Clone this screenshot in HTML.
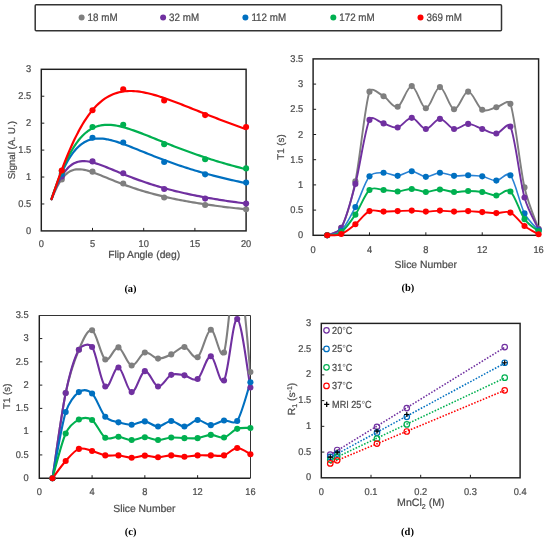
<!DOCTYPE html>
<html><head><meta charset="utf-8"><style>
html,body{margin:0;padding:0;background:#fff;width:550px;height:540px;overflow:hidden}
svg{display:block;will-change:transform}
</style></head><body>
<svg width="550" height="540" viewBox="0 0 550 540" text-rendering="geometricPrecision">
<rect width="550" height="540" fill="#fff"/>
<rect x="35.2" y="4.7" width="466.3" height="26.1" rx="1" fill="#fff" stroke="#333" stroke-width="1.5"/>
<circle cx="81.6" cy="17.6" r="3" fill="#7f7f7f"/>
<text transform="translate(87.6 20.6) scale(1 1.1)" font-family='"Liberation Sans", sans-serif' font-size="9.8" fill="#4d4d4d" text-anchor="start" font-weight="normal"  stroke="#4d4d4d" stroke-width="0.22">18 mM</text>
<circle cx="163.1" cy="17.6" r="3" fill="#7030a0"/>
<text transform="translate(169.1 20.6) scale(1 1.1)" font-family='"Liberation Sans", sans-serif' font-size="9.8" fill="#4d4d4d" text-anchor="start" font-weight="normal"  stroke="#4d4d4d" stroke-width="0.22">32 mM</text>
<circle cx="245.4" cy="17.6" r="3" fill="#0070c0"/>
<text transform="translate(251.4 20.6) scale(1 1.1)" font-family='"Liberation Sans", sans-serif' font-size="9.8" fill="#4d4d4d" text-anchor="start" font-weight="normal"  stroke="#4d4d4d" stroke-width="0.22">112 mM</text>
<circle cx="333.3" cy="17.6" r="3" fill="#00b050"/>
<text transform="translate(339.3 20.6) scale(1 1.1)" font-family='"Liberation Sans", sans-serif' font-size="9.8" fill="#4d4d4d" text-anchor="start" font-weight="normal"  stroke="#4d4d4d" stroke-width="0.22">172 mM</text>
<circle cx="420.5" cy="17.6" r="3" fill="#ff0000"/>
<text transform="translate(426.5 20.6) scale(1 1.1)" font-family='"Liberation Sans", sans-serif' font-size="9.8" fill="#4d4d4d" text-anchor="start" font-weight="normal"  stroke="#4d4d4d" stroke-width="0.22">369 mM</text>
<rect x="41.3" y="69.3" width="204.8" height="161.6" fill="none" stroke="#1f1f1f" stroke-width="1.45"/>
<line x1="41.3" y1="203.97" x2="44.3" y2="203.97" stroke="#1f1f1f" stroke-width="1"/>
<line x1="41.3" y1="177.03" x2="44.3" y2="177.03" stroke="#1f1f1f" stroke-width="1"/>
<line x1="41.3" y1="150.1" x2="44.3" y2="150.1" stroke="#1f1f1f" stroke-width="1"/>
<line x1="41.3" y1="123.17" x2="44.3" y2="123.17" stroke="#1f1f1f" stroke-width="1"/>
<line x1="41.3" y1="96.23" x2="44.3" y2="96.23" stroke="#1f1f1f" stroke-width="1"/>
<line x1="92.5" y1="230.9" x2="92.5" y2="227.9" stroke="#1f1f1f" stroke-width="1"/>
<line x1="143.7" y1="230.9" x2="143.7" y2="227.9" stroke="#1f1f1f" stroke-width="1"/>
<line x1="194.9" y1="230.9" x2="194.9" y2="227.9" stroke="#1f1f1f" stroke-width="1"/>
<text transform="translate(31.2 233.65) scale(1 1.06)" font-family='"Liberation Sans", sans-serif' font-size="9.3" fill="#4d4d4d" text-anchor="end" font-weight="normal"  stroke="#4d4d4d" stroke-width="0.22">0</text>
<text transform="translate(31.2 206.72) scale(1 1.06)" font-family='"Liberation Sans", sans-serif' font-size="9.3" fill="#4d4d4d" text-anchor="end" font-weight="normal"  stroke="#4d4d4d" stroke-width="0.22">0.5</text>
<text transform="translate(31.2 179.78) scale(1 1.06)" font-family='"Liberation Sans", sans-serif' font-size="9.3" fill="#4d4d4d" text-anchor="end" font-weight="normal"  stroke="#4d4d4d" stroke-width="0.22">1</text>
<text transform="translate(31.2 152.85) scale(1 1.06)" font-family='"Liberation Sans", sans-serif' font-size="9.3" fill="#4d4d4d" text-anchor="end" font-weight="normal"  stroke="#4d4d4d" stroke-width="0.22">1.5</text>
<text transform="translate(31.2 125.92) scale(1 1.06)" font-family='"Liberation Sans", sans-serif' font-size="9.3" fill="#4d4d4d" text-anchor="end" font-weight="normal"  stroke="#4d4d4d" stroke-width="0.22">2</text>
<text transform="translate(31.2 98.98) scale(1 1.06)" font-family='"Liberation Sans", sans-serif' font-size="9.3" fill="#4d4d4d" text-anchor="end" font-weight="normal"  stroke="#4d4d4d" stroke-width="0.22">2.5</text>
<text transform="translate(31.2 72.05) scale(1 1.06)" font-family='"Liberation Sans", sans-serif' font-size="9.3" fill="#4d4d4d" text-anchor="end" font-weight="normal"  stroke="#4d4d4d" stroke-width="0.22">3</text>
<text transform="translate(41.3 247.45) scale(1 1.06)" font-family='"Liberation Sans", sans-serif' font-size="9.3" fill="#4d4d4d" text-anchor="middle" font-weight="normal"  stroke="#4d4d4d" stroke-width="0.22">0</text>
<text transform="translate(92.5 247.45) scale(1 1.06)" font-family='"Liberation Sans", sans-serif' font-size="9.3" fill="#4d4d4d" text-anchor="middle" font-weight="normal"  stroke="#4d4d4d" stroke-width="0.22">5</text>
<text transform="translate(143.7 247.45) scale(1 1.06)" font-family='"Liberation Sans", sans-serif' font-size="9.3" fill="#4d4d4d" text-anchor="middle" font-weight="normal"  stroke="#4d4d4d" stroke-width="0.22">10</text>
<text transform="translate(194.9 247.45) scale(1 1.06)" font-family='"Liberation Sans", sans-serif' font-size="9.3" fill="#4d4d4d" text-anchor="middle" font-weight="normal"  stroke="#4d4d4d" stroke-width="0.22">15</text>
<text transform="translate(246.1 247.45) scale(1 1.06)" font-family='"Liberation Sans", sans-serif' font-size="9.3" fill="#4d4d4d" text-anchor="middle" font-weight="normal"  stroke="#4d4d4d" stroke-width="0.22">20</text>
<text x="144.2" y="257.8" font-family='"Liberation Sans", sans-serif' font-size="10.3" fill="#4d4d4d" text-anchor="middle" font-weight="normal"  stroke="#4d4d4d" stroke-width="0.22">Flip Angle (deg)</text>
<text x="15.6" y="150.2" font-family='"Liberation Sans", sans-serif' font-size="9.8" fill="#4d4d4d" text-anchor="middle" font-weight="normal" transform="rotate(-90 15.5 150.3)" stroke="#4d4d4d" stroke-width="0.22">Signal (A. U.)</text>
<polyline points="51.54,199.51 53.59,194.35 55.64,189.71 57.68,185.6 59.73,182.02 61.78,178.97 63.83,176.42 65.88,174.32 67.92,172.66 69.97,171.37 72.02,170.43 74.07,169.79 76.12,169.41 78.16,169.26 80.21,169.3 82.26,169.5 84.31,169.85 86.36,170.3 88.4,170.86 90.45,171.48 92.5,172.17 94.55,172.91 96.6,173.69 98.64,174.49 100.69,175.31 102.74,176.15 104.79,176.99 106.84,177.84 108.88,178.68 110.93,179.52 112.98,180.35 115.03,181.18 117.08,181.99 119.12,182.79 121.17,183.58 123.22,184.35 125.27,185.11 127.32,185.85 129.36,186.58 131.41,187.29 133.46,187.98 135.51,188.66 137.56,189.33 139.6,189.98 141.65,190.61 143.7,191.23 145.75,191.83 147.8,192.42 149.84,192.99 151.89,193.55 153.94,194.1 155.99,194.63 158.04,195.15 160.08,195.66 162.13,196.16 164.18,196.64 166.23,197.12 168.28,197.58 170.32,198.03 172.37,198.47 174.42,198.9 176.47,199.32 178.52,199.73 180.56,200.13 182.61,200.52 184.66,200.9 186.71,201.27 188.76,201.64 190.8,202 192.85,202.35 194.9,202.69 196.95,203.02 199,203.35 201.04,203.67 203.09,203.98 205.14,204.29 207.19,204.59 209.24,204.89 211.28,205.18 213.33,205.46 215.38,205.74 217.43,206.01 219.48,206.27 221.52,206.53 223.57,206.79 225.62,207.04 227.67,207.29 229.72,207.53 231.76,207.77 233.81,208 235.86,208.23 237.91,208.45 239.96,208.67 242,208.89 244.05,209.1 246.1,209.31" fill="none" stroke="#7f7f7f" stroke-width="2.2" stroke-linejoin="round" stroke-linecap="round"/>
<circle cx="61.78" cy="179.4" r="3.05" fill="#7f7f7f"/>
<circle cx="92.5" cy="171.65" r="3.05" fill="#7f7f7f"/>
<circle cx="123.22" cy="183.5" r="3.05" fill="#7f7f7f"/>
<circle cx="164.18" cy="197.5" r="3.05" fill="#7f7f7f"/>
<circle cx="205.14" cy="205.04" r="3.05" fill="#7f7f7f"/>
<circle cx="246.1" cy="209.35" r="3.05" fill="#7f7f7f"/>
<polyline points="51.54,198.94 53.59,193.46 55.64,188.42 57.68,183.84 59.73,179.73 61.78,176.1 63.83,172.94 65.88,170.23 67.92,167.93 69.97,166.04 72.02,164.5 74.07,163.3 76.12,162.39 78.16,161.75 80.21,161.35 82.26,161.15 84.31,161.13 86.36,161.26 88.4,161.53 90.45,161.92 92.5,162.4 94.55,162.96 96.6,163.59 98.64,164.27 100.69,165 102.74,165.77 104.79,166.56 106.84,167.37 108.88,168.2 110.93,169.04 112.98,169.89 115.03,170.74 117.08,171.59 119.12,172.43 121.17,173.27 123.22,174.1 125.27,174.93 127.32,175.74 129.36,176.54 131.41,177.33 133.46,178.11 135.51,178.87 137.56,179.62 139.6,180.36 141.65,181.08 143.7,181.79 145.75,182.48 147.8,183.16 149.84,183.83 151.89,184.48 153.94,185.12 155.99,185.75 158.04,186.36 160.08,186.96 162.13,187.54 164.18,188.12 166.23,188.68 168.28,189.23 170.32,189.77 172.37,190.29 174.42,190.81 176.47,191.31 178.52,191.8 180.56,192.29 182.61,192.76 184.66,193.22 186.71,193.67 188.76,194.12 190.8,194.55 192.85,194.98 194.9,195.39 196.95,195.8 199,196.2 201.04,196.59 203.09,196.98 205.14,197.35 207.19,197.72 209.24,198.08 211.28,198.44 213.33,198.79 215.38,199.13 217.43,199.46 219.48,199.79 221.52,200.11 223.57,200.43 225.62,200.74 227.67,201.04 229.72,201.34 231.76,201.63 233.81,201.92 235.86,202.21 237.91,202.48 239.96,202.76 242,203.03 244.05,203.29 246.1,203.55" fill="none" stroke="#7030a0" stroke-width="2.2" stroke-linejoin="round" stroke-linecap="round"/>
<circle cx="61.78" cy="176.49" r="3.05" fill="#7030a0"/>
<circle cx="92.5" cy="161.41" r="3.05" fill="#7030a0"/>
<circle cx="123.22" cy="173.26" r="3.05" fill="#7030a0"/>
<circle cx="164.18" cy="188.99" r="3.05" fill="#7030a0"/>
<circle cx="205.14" cy="198.58" r="3.05" fill="#7030a0"/>
<circle cx="246.1" cy="203.59" r="3.05" fill="#7030a0"/>
<polyline points="51.54,199.04 53.59,193.18 55.64,187.58 57.68,182.26 59.73,177.24 61.78,172.55 63.83,168.19 65.88,164.18 67.92,160.5 69.97,157.16 72.02,154.15 74.07,151.45 76.12,149.07 78.16,146.98 80.21,145.16 82.26,143.61 84.31,142.29 86.36,141.21 88.4,140.33 90.45,139.64 92.5,139.13 94.55,138.78 96.6,138.58 98.64,138.51 100.69,138.55 102.74,138.71 104.79,138.96 106.84,139.29 108.88,139.7 110.93,140.17 112.98,140.7 115.03,141.29 117.08,141.92 119.12,142.59 121.17,143.29 123.22,144.02 125.27,144.77 127.32,145.54 129.36,146.33 131.41,147.13 133.46,147.94 135.51,148.76 137.56,149.58 139.6,150.41 141.65,151.23 143.7,152.06 145.75,152.89 147.8,153.71 149.84,154.53 151.89,155.34 153.94,156.15 155.99,156.95 158.04,157.74 160.08,158.52 162.13,159.3 164.18,160.07 166.23,160.83 168.28,161.58 170.32,162.32 172.37,163.05 174.42,163.77 176.47,164.48 178.52,165.18 180.56,165.87 182.61,166.55 184.66,167.22 186.71,167.88 188.76,168.53 190.8,169.18 192.85,169.81 194.9,170.43 196.95,171.04 199,171.64 201.04,172.23 203.09,172.82 205.14,173.39 207.19,173.96 209.24,174.52 211.28,175.06 213.33,175.6 215.38,176.13 217.43,176.66 219.48,177.17 221.52,177.68 223.57,178.17 225.62,178.67 227.67,179.15 229.72,179.62 231.76,180.09 233.81,180.55 235.86,181.01 237.91,181.45 239.96,181.89 242,182.33 244.05,182.75 246.1,183.17" fill="none" stroke="#0070c0" stroke-width="2.2" stroke-linejoin="round" stroke-linecap="round"/>
<circle cx="61.78" cy="174.02" r="3.05" fill="#0070c0"/>
<circle cx="92.5" cy="137.71" r="3.05" fill="#0070c0"/>
<circle cx="123.22" cy="142.56" r="3.05" fill="#0070c0"/>
<circle cx="164.18" cy="161.95" r="3.05" fill="#0070c0"/>
<circle cx="205.14" cy="174.34" r="3.05" fill="#0070c0"/>
<circle cx="246.1" cy="182.58" r="3.05" fill="#0070c0"/>
<polyline points="51.54,198.9 53.59,192.89 55.64,187.08 57.68,181.5 59.73,176.16 61.78,171.08 63.83,166.28 65.88,161.76 67.92,157.54 69.97,153.61 72.02,149.97 74.07,146.63 76.12,143.57 78.16,140.79 80.21,138.28 82.26,136.03 84.31,134.03 86.36,132.26 88.4,130.72 90.45,129.39 92.5,128.26 94.55,127.31 96.6,126.53 98.64,125.92 100.69,125.45 102.74,125.12 104.79,124.91 106.84,124.82 108.88,124.84 110.93,124.95 112.98,125.15 115.03,125.43 117.08,125.77 119.12,126.19 121.17,126.66 123.22,127.18 125.27,127.75 127.32,128.35 129.36,129 131.41,129.68 133.46,130.38 135.51,131.11 137.56,131.86 139.6,132.62 141.65,133.4 143.7,134.2 145.75,135 147.8,135.81 149.84,136.63 151.89,137.45 153.94,138.28 155.99,139.11 158.04,139.93 160.08,140.76 162.13,141.58 164.18,142.4 166.23,143.22 168.28,144.03 170.32,144.84 172.37,145.64 174.42,146.44 176.47,147.23 178.52,148.01 180.56,148.79 182.61,149.56 184.66,150.32 186.71,151.07 188.76,151.81 190.8,152.55 192.85,153.28 194.9,153.99 196.95,154.7 199,155.41 201.04,156.1 203.09,156.78 205.14,157.46 207.19,158.12 209.24,158.78 211.28,159.43 213.33,160.07 215.38,160.71 217.43,161.33 219.48,161.95 221.52,162.55 223.57,163.15 225.62,163.74 227.67,164.33 229.72,164.9 231.76,165.47 233.81,166.03 235.86,166.58 237.91,167.13 239.96,167.66 242,168.19 244.05,168.72 246.1,169.23" fill="none" stroke="#00b050" stroke-width="2.2" stroke-linejoin="round" stroke-linecap="round"/>
<circle cx="61.78" cy="171.11" r="3.05" fill="#00b050"/>
<circle cx="92.5" cy="126.94" r="3.05" fill="#00b050"/>
<circle cx="123.22" cy="124.78" r="3.05" fill="#00b050"/>
<circle cx="164.18" cy="144.17" r="3.05" fill="#00b050"/>
<circle cx="205.14" cy="159.26" r="3.05" fill="#00b050"/>
<circle cx="246.1" cy="168.41" r="3.05" fill="#00b050"/>
<polyline points="51.54,199.2 53.59,193.08 55.64,187.07 57.68,181.19 59.73,175.45 61.78,169.88 63.83,164.47 65.88,159.25 67.92,154.22 69.97,149.38 72.02,144.75 74.07,140.33 76.12,136.12 78.16,132.13 80.21,128.34 82.26,124.78 84.31,121.42 86.36,118.28 88.4,115.34 90.45,112.61 92.5,110.07 94.55,107.73 96.6,105.58 98.64,103.6 100.69,101.8 102.74,100.16 104.79,98.69 106.84,97.37 108.88,96.2 110.93,95.16 112.98,94.26 115.03,93.48 117.08,92.83 119.12,92.28 121.17,91.84 123.22,91.5 125.27,91.26 127.32,91.1 129.36,91.02 131.41,91.02 133.46,91.1 135.51,91.24 137.56,91.44 139.6,91.7 141.65,92.02 143.7,92.38 145.75,92.8 147.8,93.25 149.84,93.74 151.89,94.27 153.94,94.83 155.99,95.42 158.04,96.04 160.08,96.69 162.13,97.36 164.18,98.05 166.23,98.75 168.28,99.48 170.32,100.22 172.37,100.97 174.42,101.73 176.47,102.51 178.52,103.29 180.56,104.08 182.61,104.88 184.66,105.68 186.71,106.49 188.76,107.3 190.8,108.11 192.85,108.93 194.9,109.75 196.95,110.56 199,111.38 201.04,112.2 203.09,113.01 205.14,113.82 207.19,114.63 209.24,115.44 211.28,116.24 213.33,117.05 215.38,117.84 217.43,118.64 219.48,119.42 221.52,120.21 223.57,120.99 225.62,121.76 227.67,122.53 229.72,123.29 231.76,124.05 233.81,124.8 235.86,125.55 237.91,126.29 239.96,127.02 242,127.75 244.05,128.47 246.1,129.19" fill="none" stroke="#ff0000" stroke-width="2.2" stroke-linejoin="round" stroke-linecap="round"/>
<circle cx="61.78" cy="170.57" r="3.05" fill="#ff0000"/>
<circle cx="92.5" cy="110.24" r="3.05" fill="#ff0000"/>
<circle cx="123.22" cy="89.23" r="3.05" fill="#ff0000"/>
<circle cx="164.18" cy="100.54" r="3.05" fill="#ff0000"/>
<circle cx="205.14" cy="115.09" r="3.05" fill="#ff0000"/>
<circle cx="246.1" cy="126.94" r="3.05" fill="#ff0000"/>
<rect x="313.1" y="58.9" width="225.5" height="176.4" fill="none" stroke="#1f1f1f" stroke-width="1.45"/>
<line x1="313.1" y1="210.1" x2="316.1" y2="210.1" stroke="#1f1f1f" stroke-width="1"/>
<line x1="313.1" y1="184.9" x2="316.1" y2="184.9" stroke="#1f1f1f" stroke-width="1"/>
<line x1="313.1" y1="159.7" x2="316.1" y2="159.7" stroke="#1f1f1f" stroke-width="1"/>
<line x1="313.1" y1="134.5" x2="316.1" y2="134.5" stroke="#1f1f1f" stroke-width="1"/>
<line x1="313.1" y1="109.3" x2="316.1" y2="109.3" stroke="#1f1f1f" stroke-width="1"/>
<line x1="313.1" y1="84.1" x2="316.1" y2="84.1" stroke="#1f1f1f" stroke-width="1"/>
<line x1="369.48" y1="235.3" x2="369.48" y2="232.3" stroke="#1f1f1f" stroke-width="1"/>
<line x1="425.85" y1="235.3" x2="425.85" y2="232.3" stroke="#1f1f1f" stroke-width="1"/>
<line x1="482.23" y1="235.3" x2="482.23" y2="232.3" stroke="#1f1f1f" stroke-width="1"/>
<text transform="translate(303.2 238.35) scale(1 1.06)" font-family='"Liberation Sans", sans-serif' font-size="9.3" fill="#4d4d4d" text-anchor="end" font-weight="normal"  stroke="#4d4d4d" stroke-width="0.22">0</text>
<text transform="translate(303.2 213.15) scale(1 1.06)" font-family='"Liberation Sans", sans-serif' font-size="9.3" fill="#4d4d4d" text-anchor="end" font-weight="normal"  stroke="#4d4d4d" stroke-width="0.22">0.5</text>
<text transform="translate(303.2 187.95) scale(1 1.06)" font-family='"Liberation Sans", sans-serif' font-size="9.3" fill="#4d4d4d" text-anchor="end" font-weight="normal"  stroke="#4d4d4d" stroke-width="0.22">1</text>
<text transform="translate(303.2 162.75) scale(1 1.06)" font-family='"Liberation Sans", sans-serif' font-size="9.3" fill="#4d4d4d" text-anchor="end" font-weight="normal"  stroke="#4d4d4d" stroke-width="0.22">1.5</text>
<text transform="translate(303.2 137.55) scale(1 1.06)" font-family='"Liberation Sans", sans-serif' font-size="9.3" fill="#4d4d4d" text-anchor="end" font-weight="normal"  stroke="#4d4d4d" stroke-width="0.22">2</text>
<text transform="translate(303.2 112.35) scale(1 1.06)" font-family='"Liberation Sans", sans-serif' font-size="9.3" fill="#4d4d4d" text-anchor="end" font-weight="normal"  stroke="#4d4d4d" stroke-width="0.22">2.5</text>
<text transform="translate(303.2 87.15) scale(1 1.06)" font-family='"Liberation Sans", sans-serif' font-size="9.3" fill="#4d4d4d" text-anchor="end" font-weight="normal"  stroke="#4d4d4d" stroke-width="0.22">3</text>
<text transform="translate(303.2 61.95) scale(1 1.06)" font-family='"Liberation Sans", sans-serif' font-size="9.3" fill="#4d4d4d" text-anchor="end" font-weight="normal"  stroke="#4d4d4d" stroke-width="0.22">3.5</text>
<text transform="translate(313.1 252.55) scale(1 1.06)" font-family='"Liberation Sans", sans-serif' font-size="9.3" fill="#4d4d4d" text-anchor="middle" font-weight="normal"  stroke="#4d4d4d" stroke-width="0.22">0</text>
<text transform="translate(369.48 252.55) scale(1 1.06)" font-family='"Liberation Sans", sans-serif' font-size="9.3" fill="#4d4d4d" text-anchor="middle" font-weight="normal"  stroke="#4d4d4d" stroke-width="0.22">4</text>
<text transform="translate(425.85 252.55) scale(1 1.06)" font-family='"Liberation Sans", sans-serif' font-size="9.3" fill="#4d4d4d" text-anchor="middle" font-weight="normal"  stroke="#4d4d4d" stroke-width="0.22">8</text>
<text transform="translate(482.23 252.55) scale(1 1.06)" font-family='"Liberation Sans", sans-serif' font-size="9.3" fill="#4d4d4d" text-anchor="middle" font-weight="normal"  stroke="#4d4d4d" stroke-width="0.22">12</text>
<text transform="translate(538.6 252.55) scale(1 1.06)" font-family='"Liberation Sans", sans-serif' font-size="9.3" fill="#4d4d4d" text-anchor="middle" font-weight="normal"  stroke="#4d4d4d" stroke-width="0.22">16</text>
<text x="425.8" y="268.2" font-family='"Liberation Sans", sans-serif' font-size="10.4" fill="#4d4d4d" text-anchor="middle" font-weight="normal"  stroke="#4d4d4d" stroke-width="0.22">Slice Number</text>
<text x="284.2" y="147" font-family='"Liberation Sans", sans-serif' font-size="9.7" fill="#4d4d4d" text-anchor="middle" font-weight="normal" transform="rotate(-90 284.2 147)" stroke="#4d4d4d" stroke-width="0.22">T1 (s)</text>
<path d="M327.19,235.3C329.54,234.04 338.32,233.41 341.29,227.74C345.99,218.75 351.45,200.35 355.38,181.37C360.08,158.69 364.78,105.86 369.48,91.66C371.34,86.04 378.87,93.68 383.57,96.2C388.27,98.72 392.96,108.46 397.66,106.78C402.36,105.1 407.06,85.86 411.76,86.12C416.45,86.37 421.15,108.12 425.85,108.29C430.55,108.46 435.25,86.96 439.94,87.12C444.64,87.29 449.34,108.54 454.04,109.3C458.74,110.06 463.43,91.58 468.13,91.66C472.83,91.74 477.53,107.2 482.23,109.8C486.92,112.41 491.62,108.29 496.32,107.28C501.02,106.28 508.48,98.27 510.41,103.76C515.11,117.11 519.81,166.59 524.51,187.42C528.35,204.46 536.25,221.86 538.6,228.75" fill="none" stroke="#7f7f7f" stroke-width="1.9" stroke-linejoin="round"/>
<circle cx="327.19" cy="235.3" r="3.05" fill="#7f7f7f"/>
<circle cx="341.29" cy="227.74" r="3.05" fill="#7f7f7f"/>
<circle cx="355.38" cy="181.37" r="3.05" fill="#7f7f7f"/>
<circle cx="369.48" cy="91.66" r="3.05" fill="#7f7f7f"/>
<circle cx="383.57" cy="96.2" r="3.05" fill="#7f7f7f"/>
<circle cx="397.66" cy="106.78" r="3.05" fill="#7f7f7f"/>
<circle cx="411.76" cy="86.12" r="3.05" fill="#7f7f7f"/>
<circle cx="425.85" cy="108.29" r="3.05" fill="#7f7f7f"/>
<circle cx="439.94" cy="87.12" r="3.05" fill="#7f7f7f"/>
<circle cx="454.04" cy="109.3" r="3.05" fill="#7f7f7f"/>
<circle cx="468.13" cy="91.66" r="3.05" fill="#7f7f7f"/>
<circle cx="482.23" cy="109.8" r="3.05" fill="#7f7f7f"/>
<circle cx="496.32" cy="107.28" r="3.05" fill="#7f7f7f"/>
<circle cx="510.41" cy="103.76" r="3.05" fill="#7f7f7f"/>
<circle cx="524.51" cy="187.42" r="3.05" fill="#7f7f7f"/>
<circle cx="538.6" cy="228.75" r="3.05" fill="#7f7f7f"/>
<path d="M327.19,235.3C329.54,234.04 338.21,233.35 341.29,227.74C345.99,219.17 350.72,201.72 355.38,183.89C360.08,165.92 364.78,129.96 369.48,119.88C371.93,114.62 378.87,122.15 383.57,123.41C388.27,124.67 392.96,128.37 397.66,127.44C402.36,126.52 407.06,117.62 411.76,117.87C416.45,118.12 421.15,128.79 425.85,128.96C430.55,129.12 435.25,118.88 439.94,118.88C444.64,118.88 449.34,128.12 454.04,128.96C458.74,129.8 463.43,123.92 468.13,123.92C472.83,123.92 477.53,127.36 482.23,128.96C486.92,130.55 491.62,133.91 496.32,133.49C501.02,133.07 507.87,120.67 510.41,126.44C515.11,137.1 519.81,180.36 524.51,197.5C528.18,210.9 536.25,223.96 538.6,229.25" fill="none" stroke="#7030a0" stroke-width="1.9" stroke-linejoin="round"/>
<circle cx="327.19" cy="235.3" r="3.05" fill="#7030a0"/>
<circle cx="341.29" cy="227.74" r="3.05" fill="#7030a0"/>
<circle cx="355.38" cy="183.89" r="3.05" fill="#7030a0"/>
<circle cx="369.48" cy="119.88" r="3.05" fill="#7030a0"/>
<circle cx="383.57" cy="123.41" r="3.05" fill="#7030a0"/>
<circle cx="397.66" cy="127.44" r="3.05" fill="#7030a0"/>
<circle cx="411.76" cy="117.87" r="3.05" fill="#7030a0"/>
<circle cx="425.85" cy="128.96" r="3.05" fill="#7030a0"/>
<circle cx="439.94" cy="118.88" r="3.05" fill="#7030a0"/>
<circle cx="454.04" cy="128.96" r="3.05" fill="#7030a0"/>
<circle cx="468.13" cy="123.92" r="3.05" fill="#7030a0"/>
<circle cx="482.23" cy="128.96" r="3.05" fill="#7030a0"/>
<circle cx="496.32" cy="133.49" r="3.05" fill="#7030a0"/>
<circle cx="510.41" cy="126.44" r="3.05" fill="#7030a0"/>
<circle cx="524.51" cy="197.5" r="3.05" fill="#7030a0"/>
<circle cx="538.6" cy="229.25" r="3.05" fill="#7030a0"/>
<path d="M327.19,235.3C329.54,234.54 337.1,234.95 341.29,230.76C345.99,226.06 350.68,216.15 355.38,207.08C360.08,198 364.78,182.04 369.48,176.33C373.17,171.84 378.87,172.89 383.57,172.8C388.27,172.72 392.96,176.08 397.66,175.83C402.36,175.58 407.06,171.12 411.76,171.29C416.45,171.46 421.15,176.58 425.85,176.84C430.55,177.09 435.25,172.97 439.94,172.8C444.64,172.64 449.34,175.41 454.04,175.83C458.74,176.25 463.43,175.24 468.13,175.32C472.83,175.41 477.53,175.45 482.23,176.33C486.92,177.21 491.62,180.78 496.32,180.62C501.02,180.45 506.48,170.76 510.41,175.32C515.11,180.78 519.81,204.22 524.51,213.38C528.52,221.2 536.25,227.45 538.6,230.26" fill="none" stroke="#2a82d4" stroke-width="1.6" stroke-linejoin="round"/>
<circle cx="327.19" cy="235.3" r="3.05" fill="#0070c0"/>
<circle cx="341.29" cy="230.76" r="3.05" fill="#0070c0"/>
<circle cx="355.38" cy="207.08" r="3.05" fill="#0070c0"/>
<circle cx="369.48" cy="176.33" r="3.05" fill="#0070c0"/>
<circle cx="383.57" cy="172.8" r="3.05" fill="#0070c0"/>
<circle cx="397.66" cy="175.83" r="3.05" fill="#0070c0"/>
<circle cx="411.76" cy="171.29" r="3.05" fill="#0070c0"/>
<circle cx="425.85" cy="176.84" r="3.05" fill="#0070c0"/>
<circle cx="439.94" cy="172.8" r="3.05" fill="#0070c0"/>
<circle cx="454.04" cy="175.83" r="3.05" fill="#0070c0"/>
<circle cx="468.13" cy="175.32" r="3.05" fill="#0070c0"/>
<circle cx="482.23" cy="176.33" r="3.05" fill="#0070c0"/>
<circle cx="496.32" cy="180.62" r="3.05" fill="#0070c0"/>
<circle cx="510.41" cy="175.32" r="3.05" fill="#0070c0"/>
<circle cx="524.51" cy="213.38" r="3.05" fill="#0070c0"/>
<circle cx="538.6" cy="230.26" r="3.05" fill="#0070c0"/>
<path d="M327.19,235.3C329.54,234.75 336.62,235.45 341.29,232.02C345.99,228.58 350.68,221.65 355.38,214.64C360.08,207.62 364.78,194.06 369.48,189.94C373.72,186.22 378.87,189.69 383.57,189.94C388.27,190.19 392.96,191.62 397.66,191.45C402.36,191.28 407.06,188.85 411.76,188.93C416.45,189.02 421.15,191.87 425.85,191.96C430.55,192.04 435.25,189.44 439.94,189.44C444.64,189.44 449.34,191.7 454.04,191.96C458.74,192.21 463.43,190.95 468.13,190.95C472.83,190.95 477.53,191.2 482.23,191.96C486.92,192.71 491.62,195.57 496.32,195.48C501.02,195.4 505.92,187.68 510.41,191.45C515.11,195.4 519.81,212.54 524.51,219.17C528.8,225.24 536.25,229.25 538.6,231.27" fill="none" stroke="#00b050" stroke-width="1.9" stroke-linejoin="round"/>
<circle cx="327.19" cy="235.3" r="3.05" fill="#00b050"/>
<circle cx="341.29" cy="232.02" r="3.05" fill="#00b050"/>
<circle cx="355.38" cy="214.64" r="3.05" fill="#00b050"/>
<circle cx="369.48" cy="189.94" r="3.05" fill="#00b050"/>
<circle cx="383.57" cy="189.94" r="3.05" fill="#00b050"/>
<circle cx="397.66" cy="191.45" r="3.05" fill="#00b050"/>
<circle cx="411.76" cy="188.93" r="3.05" fill="#00b050"/>
<circle cx="425.85" cy="191.96" r="3.05" fill="#00b050"/>
<circle cx="439.94" cy="189.44" r="3.05" fill="#00b050"/>
<circle cx="454.04" cy="191.96" r="3.05" fill="#00b050"/>
<circle cx="468.13" cy="190.95" r="3.05" fill="#00b050"/>
<circle cx="482.23" cy="191.96" r="3.05" fill="#00b050"/>
<circle cx="496.32" cy="195.48" r="3.05" fill="#00b050"/>
<circle cx="510.41" cy="191.45" r="3.05" fill="#00b050"/>
<circle cx="524.51" cy="219.17" r="3.05" fill="#00b050"/>
<circle cx="538.6" cy="231.27" r="3.05" fill="#00b050"/>
<path d="M327.19,235.3C329.54,235.09 336.59,235.89 341.29,234.04C345.99,232.19 350.68,228.03 355.38,224.21C360.08,220.39 364.78,213.21 369.48,211.11C374.17,209.01 378.87,211.61 383.57,211.61C388.27,211.61 392.96,211.28 397.66,211.11C402.36,210.94 407.06,210.52 411.76,210.6C416.45,210.69 421.15,211.61 425.85,211.61C430.55,211.61 435.25,210.6 439.94,210.6C444.64,210.6 449.34,211.53 454.04,211.61C458.74,211.7 463.43,211.02 468.13,211.11C472.83,211.19 477.53,211.78 482.23,212.12C486.92,212.45 491.62,213.04 496.32,213.12C501.02,213.21 505.71,210.49 510.41,212.62C515.11,214.75 519.81,222.31 524.51,225.93C529.2,229.54 536.25,232.9 538.6,234.29" fill="none" stroke="#ff0000" stroke-width="1.9" stroke-linejoin="round"/>
<circle cx="327.19" cy="235.3" r="3.05" fill="#ff0000"/>
<circle cx="341.29" cy="234.04" r="3.05" fill="#ff0000"/>
<circle cx="355.38" cy="224.21" r="3.05" fill="#ff0000"/>
<circle cx="369.48" cy="211.11" r="3.05" fill="#ff0000"/>
<circle cx="383.57" cy="211.61" r="3.05" fill="#ff0000"/>
<circle cx="397.66" cy="211.11" r="3.05" fill="#ff0000"/>
<circle cx="411.76" cy="210.6" r="3.05" fill="#ff0000"/>
<circle cx="425.85" cy="211.61" r="3.05" fill="#ff0000"/>
<circle cx="439.94" cy="210.6" r="3.05" fill="#ff0000"/>
<circle cx="454.04" cy="211.61" r="3.05" fill="#ff0000"/>
<circle cx="468.13" cy="211.11" r="3.05" fill="#ff0000"/>
<circle cx="482.23" cy="212.12" r="3.05" fill="#ff0000"/>
<circle cx="496.32" cy="213.12" r="3.05" fill="#ff0000"/>
<circle cx="510.41" cy="212.62" r="3.05" fill="#ff0000"/>
<circle cx="524.51" cy="225.93" r="3.05" fill="#ff0000"/>
<circle cx="538.6" cy="234.29" r="3.05" fill="#ff0000"/>
<path d="M39.3,315.5H250.5V478.2" fill="none" stroke="#333" stroke-width="1"/>
<path d="M39.3,315.3V478.2H250.4" fill="none" stroke="#1f1f1f" stroke-width="1.45"/>
<line x1="39.3" y1="454.93" x2="42.3" y2="454.93" stroke="#1f1f1f" stroke-width="1"/>
<line x1="39.3" y1="431.66" x2="42.3" y2="431.66" stroke="#1f1f1f" stroke-width="1"/>
<line x1="39.3" y1="408.39" x2="42.3" y2="408.39" stroke="#1f1f1f" stroke-width="1"/>
<line x1="39.3" y1="385.11" x2="42.3" y2="385.11" stroke="#1f1f1f" stroke-width="1"/>
<line x1="39.3" y1="361.84" x2="42.3" y2="361.84" stroke="#1f1f1f" stroke-width="1"/>
<line x1="39.3" y1="338.57" x2="42.3" y2="338.57" stroke="#1f1f1f" stroke-width="1"/>
<line x1="92.08" y1="478.2" x2="92.08" y2="475.2" stroke="#1f1f1f" stroke-width="1"/>
<line x1="144.85" y1="478.2" x2="144.85" y2="475.2" stroke="#1f1f1f" stroke-width="1"/>
<line x1="197.62" y1="478.2" x2="197.62" y2="475.2" stroke="#1f1f1f" stroke-width="1"/>
<text transform="translate(28.6 480.95) scale(1 1.06)" font-family='"Liberation Sans", sans-serif' font-size="9.3" fill="#4d4d4d" text-anchor="end" font-weight="normal"  stroke="#4d4d4d" stroke-width="0.22">0</text>
<text transform="translate(28.6 457.68) scale(1 1.06)" font-family='"Liberation Sans", sans-serif' font-size="9.3" fill="#4d4d4d" text-anchor="end" font-weight="normal"  stroke="#4d4d4d" stroke-width="0.22">0.5</text>
<text transform="translate(28.6 434.41) scale(1 1.06)" font-family='"Liberation Sans", sans-serif' font-size="9.3" fill="#4d4d4d" text-anchor="end" font-weight="normal"  stroke="#4d4d4d" stroke-width="0.22">1</text>
<text transform="translate(28.6 411.13) scale(1 1.06)" font-family='"Liberation Sans", sans-serif' font-size="9.3" fill="#4d4d4d" text-anchor="end" font-weight="normal"  stroke="#4d4d4d" stroke-width="0.22">1.5</text>
<text transform="translate(28.6 387.86) scale(1 1.06)" font-family='"Liberation Sans", sans-serif' font-size="9.3" fill="#4d4d4d" text-anchor="end" font-weight="normal"  stroke="#4d4d4d" stroke-width="0.22">2</text>
<text transform="translate(28.6 364.59) scale(1 1.06)" font-family='"Liberation Sans", sans-serif' font-size="9.3" fill="#4d4d4d" text-anchor="end" font-weight="normal"  stroke="#4d4d4d" stroke-width="0.22">2.5</text>
<text transform="translate(28.6 341.32) scale(1 1.06)" font-family='"Liberation Sans", sans-serif' font-size="9.3" fill="#4d4d4d" text-anchor="end" font-weight="normal"  stroke="#4d4d4d" stroke-width="0.22">3</text>
<text transform="translate(28.6 318.05) scale(1 1.06)" font-family='"Liberation Sans", sans-serif' font-size="9.3" fill="#4d4d4d" text-anchor="end" font-weight="normal"  stroke="#4d4d4d" stroke-width="0.22">3.5</text>
<text transform="translate(39.3 494.75) scale(1 1.06)" font-family='"Liberation Sans", sans-serif' font-size="9.3" fill="#4d4d4d" text-anchor="middle" font-weight="normal"  stroke="#4d4d4d" stroke-width="0.22">0</text>
<text transform="translate(92.08 494.75) scale(1 1.06)" font-family='"Liberation Sans", sans-serif' font-size="9.3" fill="#4d4d4d" text-anchor="middle" font-weight="normal"  stroke="#4d4d4d" stroke-width="0.22">4</text>
<text transform="translate(144.85 494.75) scale(1 1.06)" font-family='"Liberation Sans", sans-serif' font-size="9.3" fill="#4d4d4d" text-anchor="middle" font-weight="normal"  stroke="#4d4d4d" stroke-width="0.22">8</text>
<text transform="translate(197.62 494.75) scale(1 1.06)" font-family='"Liberation Sans", sans-serif' font-size="9.3" fill="#4d4d4d" text-anchor="middle" font-weight="normal"  stroke="#4d4d4d" stroke-width="0.22">12</text>
<text transform="translate(250.4 494.75) scale(1 1.06)" font-family='"Liberation Sans", sans-serif' font-size="9.3" fill="#4d4d4d" text-anchor="middle" font-weight="normal"  stroke="#4d4d4d" stroke-width="0.22">16</text>
<defs><clipPath id="cc"><rect x="39.3" y="315.3" width="211.1" height="162.9"/></clipPath></defs>
<g clip-path="url(#cc)">
<path d="M52.49,478.2C54.69,464 61.29,414.44 65.69,393.03C69.33,375.3 74.48,360.21 78.88,349.74C82.53,341.04 87.68,328.56 92.08,330.19C96.47,331.82 100.87,356.65 105.27,359.52C109.67,362.39 114.06,346.41 118.46,347.41C122.86,348.42 127.26,364.71 131.66,365.57C136.05,366.42 140.45,353.7 144.85,352.53C149.25,351.37 153.65,358.27 158.04,358.58C162.44,358.9 166.84,356.34 171.24,354.4C175.64,352.46 180.03,346.48 184.43,346.95C188.83,347.41 193.23,360.06 197.62,357.19C202.02,354.32 206.42,330.5 210.82,329.73C215.22,328.95 220.31,362.4 224.01,352.53C228.41,340.82 232.81,256.19 237.21,259.45C241.6,262.71 248.2,353.31 250.4,372.08" fill="none" stroke="#7f7f7f" stroke-width="2.1" stroke-linejoin="round"/>
<path d="M52.49,478.2C54.69,464 61.29,414.44 65.69,393.03C69.33,375.3 74.48,357.42 78.88,349.74C81.56,345.06 88.93,342.57 92.08,346.95C96.47,353.08 100.87,383.1 105.27,386.51C109.67,389.92 114.06,366.5 118.46,367.43C122.86,368.36 127.26,391.48 131.66,392.1C136.05,392.72 140.45,372.08 144.85,371.15C149.25,370.22 153.65,385.89 158.04,386.51C162.44,387.13 166.84,376.74 171.24,374.87C175.64,373.01 180.03,374.64 184.43,375.34C188.83,376.04 193.23,382.24 197.62,379.06C202.02,375.88 206.42,356.03 210.82,356.26C215.22,356.49 219.61,386.67 224.01,380.46C228.41,374.25 232.81,317.86 237.21,319.02C241.6,320.19 248.2,376.04 250.4,387.44" fill="none" stroke="#7030a0" stroke-width="2.1" stroke-linejoin="round"/>
<path d="M52.49,478.2C54.69,467.18 61.29,426.46 65.69,412.11C68.5,402.94 74.48,395.2 78.88,392.1C83.22,389.04 88.2,389.87 92.08,393.49C96.47,397.6 100.87,411.95 105.27,416.76C109.14,420.99 114.06,421.03 118.46,422.35C122.86,423.67 127.26,424.83 131.66,424.68C136.05,424.52 140.45,421.11 144.85,421.42C149.25,421.73 153.65,426.62 158.04,426.54C162.44,426.46 166.84,420.95 171.24,420.95C175.64,420.95 180.03,426.69 184.43,426.54C188.83,426.38 193.23,420.25 197.62,420.02C202.02,419.79 206.42,425.06 210.82,425.14C215.22,425.22 219.61,421.19 224.01,420.49C228.41,419.79 234.2,425.3 237.21,420.95C241.6,414.59 248.2,388.76 250.4,382.32" fill="none" stroke="#0070c0" stroke-width="2.1" stroke-linejoin="round"/>
<path d="M52.49,478.2C54.69,470.75 61.29,443.29 65.69,433.52C68.84,426.51 74.48,421.81 78.88,419.56C83.28,417.31 87.72,417.03 92.08,420.02C96.47,423.05 100.87,434.92 105.27,437.71C109.67,440.5 114.06,436.39 118.46,436.78C122.86,437.16 127.26,439.96 131.66,440.03C136.05,440.11 140.45,437.24 144.85,437.24C149.25,437.24 153.65,440 158.04,440.03C162.44,440.07 166.84,437.79 171.24,437.48C175.64,437.16 180.03,438.06 184.43,438.17C188.83,438.29 193.23,438.72 197.62,438.17C202.02,437.63 206.42,435.03 210.82,434.92C215.22,434.8 219.61,438.48 224.01,437.48C228.41,436.47 232.81,430.45 237.21,428.86C241.6,427.27 248.2,428.09 250.4,427.93" fill="none" stroke="#00b050" stroke-width="2.1" stroke-linejoin="round"/>
<path d="M52.49,478.2C54.69,475.33 61.29,465.87 65.69,460.98C70.09,456.09 74.48,450.55 78.88,448.88C83.28,447.21 87.68,449.89 92.08,450.97C96.47,452.06 100.87,454.66 105.27,455.39C109.67,456.13 114.06,455.01 118.46,455.39C122.86,455.78 127.26,457.68 131.66,457.72C136.05,457.76 140.45,455.7 144.85,455.63C149.25,455.55 153.65,457.29 158.04,457.26C162.44,457.22 166.84,455.47 171.24,455.39C175.64,455.32 180.03,456.79 184.43,456.79C188.83,456.79 193.23,455.63 197.62,455.39C202.02,455.16 206.42,455.39 210.82,455.39C215.22,455.39 219.61,456.64 224.01,455.39C228.41,454.15 232.81,448.14 237.21,447.95C241.6,447.75 248.2,453.18 250.4,454.23" fill="none" stroke="#ff0000" stroke-width="2.1" stroke-linejoin="round"/>
</g>
<circle cx="52.49" cy="478.2" r="3.05" fill="#7f7f7f"/>
<circle cx="65.69" cy="393.03" r="3.05" fill="#7f7f7f"/>
<circle cx="78.88" cy="349.74" r="3.05" fill="#7f7f7f"/>
<circle cx="92.08" cy="330.19" r="3.05" fill="#7f7f7f"/>
<circle cx="105.27" cy="359.52" r="3.05" fill="#7f7f7f"/>
<circle cx="118.46" cy="347.41" r="3.05" fill="#7f7f7f"/>
<circle cx="131.66" cy="365.57" r="3.05" fill="#7f7f7f"/>
<circle cx="144.85" cy="352.53" r="3.05" fill="#7f7f7f"/>
<circle cx="158.04" cy="358.58" r="3.05" fill="#7f7f7f"/>
<circle cx="171.24" cy="354.4" r="3.05" fill="#7f7f7f"/>
<circle cx="184.43" cy="346.95" r="3.05" fill="#7f7f7f"/>
<circle cx="197.62" cy="357.19" r="3.05" fill="#7f7f7f"/>
<circle cx="210.82" cy="329.73" r="3.05" fill="#7f7f7f"/>
<circle cx="224.01" cy="352.53" r="3.05" fill="#7f7f7f"/>
<circle cx="250.4" cy="372.08" r="3.05" fill="#7f7f7f"/>
<circle cx="52.49" cy="478.2" r="3.05" fill="#7030a0"/>
<circle cx="65.69" cy="393.03" r="3.05" fill="#7030a0"/>
<circle cx="78.88" cy="349.74" r="3.05" fill="#7030a0"/>
<circle cx="92.08" cy="346.95" r="3.05" fill="#7030a0"/>
<circle cx="105.27" cy="386.51" r="3.05" fill="#7030a0"/>
<circle cx="118.46" cy="367.43" r="3.05" fill="#7030a0"/>
<circle cx="131.66" cy="392.1" r="3.05" fill="#7030a0"/>
<circle cx="144.85" cy="371.15" r="3.05" fill="#7030a0"/>
<circle cx="158.04" cy="386.51" r="3.05" fill="#7030a0"/>
<circle cx="171.24" cy="374.87" r="3.05" fill="#7030a0"/>
<circle cx="184.43" cy="375.34" r="3.05" fill="#7030a0"/>
<circle cx="197.62" cy="379.06" r="3.05" fill="#7030a0"/>
<circle cx="210.82" cy="356.26" r="3.05" fill="#7030a0"/>
<circle cx="224.01" cy="380.46" r="3.05" fill="#7030a0"/>
<circle cx="237.21" cy="319.02" r="3.05" fill="#7030a0"/>
<circle cx="250.4" cy="387.44" r="3.05" fill="#7030a0"/>
<circle cx="52.49" cy="478.2" r="3.05" fill="#0070c0"/>
<circle cx="65.69" cy="412.11" r="3.05" fill="#0070c0"/>
<circle cx="78.88" cy="392.1" r="3.05" fill="#0070c0"/>
<circle cx="92.08" cy="393.49" r="3.05" fill="#0070c0"/>
<circle cx="105.27" cy="416.76" r="3.05" fill="#0070c0"/>
<circle cx="118.46" cy="422.35" r="3.05" fill="#0070c0"/>
<circle cx="131.66" cy="424.68" r="3.05" fill="#0070c0"/>
<circle cx="144.85" cy="421.42" r="3.05" fill="#0070c0"/>
<circle cx="158.04" cy="426.54" r="3.05" fill="#0070c0"/>
<circle cx="171.24" cy="420.95" r="3.05" fill="#0070c0"/>
<circle cx="184.43" cy="426.54" r="3.05" fill="#0070c0"/>
<circle cx="197.62" cy="420.02" r="3.05" fill="#0070c0"/>
<circle cx="210.82" cy="425.14" r="3.05" fill="#0070c0"/>
<circle cx="224.01" cy="420.49" r="3.05" fill="#0070c0"/>
<circle cx="237.21" cy="420.95" r="3.05" fill="#0070c0"/>
<circle cx="250.4" cy="382.32" r="3.05" fill="#0070c0"/>
<circle cx="52.49" cy="478.2" r="3.05" fill="#00b050"/>
<circle cx="65.69" cy="433.52" r="3.05" fill="#00b050"/>
<circle cx="78.88" cy="419.56" r="3.05" fill="#00b050"/>
<circle cx="92.08" cy="420.02" r="3.05" fill="#00b050"/>
<circle cx="105.27" cy="437.71" r="3.05" fill="#00b050"/>
<circle cx="118.46" cy="436.78" r="3.05" fill="#00b050"/>
<circle cx="131.66" cy="440.03" r="3.05" fill="#00b050"/>
<circle cx="144.85" cy="437.24" r="3.05" fill="#00b050"/>
<circle cx="158.04" cy="440.03" r="3.05" fill="#00b050"/>
<circle cx="171.24" cy="437.48" r="3.05" fill="#00b050"/>
<circle cx="184.43" cy="438.17" r="3.05" fill="#00b050"/>
<circle cx="197.62" cy="438.17" r="3.05" fill="#00b050"/>
<circle cx="210.82" cy="434.92" r="3.05" fill="#00b050"/>
<circle cx="224.01" cy="437.48" r="3.05" fill="#00b050"/>
<circle cx="237.21" cy="428.86" r="3.05" fill="#00b050"/>
<circle cx="250.4" cy="427.93" r="3.05" fill="#00b050"/>
<circle cx="52.49" cy="478.2" r="3.05" fill="#ff0000"/>
<circle cx="65.69" cy="460.98" r="3.05" fill="#ff0000"/>
<circle cx="78.88" cy="448.88" r="3.05" fill="#ff0000"/>
<circle cx="92.08" cy="450.97" r="3.05" fill="#ff0000"/>
<circle cx="105.27" cy="455.39" r="3.05" fill="#ff0000"/>
<circle cx="118.46" cy="455.39" r="3.05" fill="#ff0000"/>
<circle cx="131.66" cy="457.72" r="3.05" fill="#ff0000"/>
<circle cx="144.85" cy="455.63" r="3.05" fill="#ff0000"/>
<circle cx="158.04" cy="457.26" r="3.05" fill="#ff0000"/>
<circle cx="171.24" cy="455.39" r="3.05" fill="#ff0000"/>
<circle cx="184.43" cy="456.79" r="3.05" fill="#ff0000"/>
<circle cx="197.62" cy="455.39" r="3.05" fill="#ff0000"/>
<circle cx="210.82" cy="455.39" r="3.05" fill="#ff0000"/>
<circle cx="224.01" cy="455.39" r="3.05" fill="#ff0000"/>
<circle cx="237.21" cy="447.95" r="3.05" fill="#ff0000"/>
<circle cx="250.4" cy="454.23" r="3.05" fill="#ff0000"/>
<text x="144.4" y="511.9" font-family='"Liberation Sans", sans-serif' font-size="10.4" fill="#4d4d4d" text-anchor="middle" font-weight="normal"  stroke="#4d4d4d" stroke-width="0.22">Slice Number</text>
<text x="10.2" y="396.3" font-family='"Liberation Sans", sans-serif' font-size="9.7" fill="#4d4d4d" text-anchor="middle" font-weight="normal" transform="rotate(-90 10.2 396.3)" stroke="#4d4d4d" stroke-width="0.22">T1 (s)</text>
<rect x="321.3" y="323.4" width="198.8" height="154.4" fill="none" stroke="#1f1f1f" stroke-width="1.45"/>
<line x1="321.3" y1="452.07" x2="324.3" y2="452.07" stroke="#1f1f1f" stroke-width="1"/>
<line x1="321.3" y1="426.33" x2="324.3" y2="426.33" stroke="#1f1f1f" stroke-width="1"/>
<line x1="321.3" y1="400.6" x2="324.3" y2="400.6" stroke="#1f1f1f" stroke-width="1"/>
<line x1="321.3" y1="374.87" x2="324.3" y2="374.87" stroke="#1f1f1f" stroke-width="1"/>
<line x1="321.3" y1="349.13" x2="324.3" y2="349.13" stroke="#1f1f1f" stroke-width="1"/>
<line x1="371" y1="477.8" x2="371" y2="474.8" stroke="#1f1f1f" stroke-width="1"/>
<line x1="420.7" y1="477.8" x2="420.7" y2="474.8" stroke="#1f1f1f" stroke-width="1"/>
<line x1="470.4" y1="477.8" x2="470.4" y2="474.8" stroke="#1f1f1f" stroke-width="1"/>
<text transform="translate(311.2 480.25) scale(1 1.06)" font-family='"Liberation Sans", sans-serif' font-size="9.3" fill="#4d4d4d" text-anchor="end" font-weight="normal"  stroke="#4d4d4d" stroke-width="0.22">0</text>
<text transform="translate(311.2 454.52) scale(1 1.06)" font-family='"Liberation Sans", sans-serif' font-size="9.3" fill="#4d4d4d" text-anchor="end" font-weight="normal"  stroke="#4d4d4d" stroke-width="0.22">0.5</text>
<text transform="translate(311.2 428.78) scale(1 1.06)" font-family='"Liberation Sans", sans-serif' font-size="9.3" fill="#4d4d4d" text-anchor="end" font-weight="normal"  stroke="#4d4d4d" stroke-width="0.22">1</text>
<text transform="translate(311.2 403.05) scale(1 1.06)" font-family='"Liberation Sans", sans-serif' font-size="9.3" fill="#4d4d4d" text-anchor="end" font-weight="normal"  stroke="#4d4d4d" stroke-width="0.22">1.5</text>
<text transform="translate(311.2 377.32) scale(1 1.06)" font-family='"Liberation Sans", sans-serif' font-size="9.3" fill="#4d4d4d" text-anchor="end" font-weight="normal"  stroke="#4d4d4d" stroke-width="0.22">2</text>
<text transform="translate(311.2 351.58) scale(1 1.06)" font-family='"Liberation Sans", sans-serif' font-size="9.3" fill="#4d4d4d" text-anchor="end" font-weight="normal"  stroke="#4d4d4d" stroke-width="0.22">2.5</text>
<text transform="translate(311.2 325.85) scale(1 1.06)" font-family='"Liberation Sans", sans-serif' font-size="9.3" fill="#4d4d4d" text-anchor="end" font-weight="normal"  stroke="#4d4d4d" stroke-width="0.22">3</text>
<text transform="translate(321.3 494.75) scale(1 1.06)" font-family='"Liberation Sans", sans-serif' font-size="9.3" fill="#4d4d4d" text-anchor="middle" font-weight="normal"  stroke="#4d4d4d" stroke-width="0.22">0</text>
<text transform="translate(371 494.75) scale(1 1.06)" font-family='"Liberation Sans", sans-serif' font-size="9.3" fill="#4d4d4d" text-anchor="middle" font-weight="normal"  stroke="#4d4d4d" stroke-width="0.22">0.1</text>
<text transform="translate(420.7 494.75) scale(1 1.06)" font-family='"Liberation Sans", sans-serif' font-size="9.3" fill="#4d4d4d" text-anchor="middle" font-weight="normal"  stroke="#4d4d4d" stroke-width="0.22">0.2</text>
<text transform="translate(470.4 494.75) scale(1 1.06)" font-family='"Liberation Sans", sans-serif' font-size="9.3" fill="#4d4d4d" text-anchor="middle" font-weight="normal"  stroke="#4d4d4d" stroke-width="0.22">0.3</text>
<text transform="translate(520.1 494.75) scale(1 1.06)" font-family='"Liberation Sans", sans-serif' font-size="9.3" fill="#4d4d4d" text-anchor="middle" font-weight="normal"  stroke="#4d4d4d" stroke-width="0.22">0.4</text>
<line x1="330.25" y1="454.86" x2="504.69" y2="347.41" stroke="#7030a0" stroke-width="1.55" stroke-dasharray="1.56 1.56"/>
<line x1="330.25" y1="457.51" x2="504.69" y2="363.18" stroke="#0070c0" stroke-width="1.55" stroke-dasharray="1.56 1.56"/>
<line x1="330.25" y1="460.17" x2="504.69" y2="377.97" stroke="#00b050" stroke-width="1.55" stroke-dasharray="1.56 1.56"/>
<line x1="330.25" y1="463.29" x2="504.69" y2="390.34" stroke="#ff0000" stroke-width="1.55" stroke-dasharray="1.56 1.56"/>
<circle cx="330.25" cy="454.64" r="2.75" fill="none" stroke="#7030a0" stroke-width="1.2"/>
<circle cx="337.2" cy="450.01" r="2.75" fill="none" stroke="#7030a0" stroke-width="1.2"/>
<circle cx="376.96" cy="426.85" r="2.75" fill="none" stroke="#7030a0" stroke-width="1.2"/>
<circle cx="406.78" cy="408.06" r="2.75" fill="none" stroke="#7030a0" stroke-width="1.2"/>
<circle cx="504.69" cy="347.07" r="2.75" fill="none" stroke="#7030a0" stroke-width="1.2"/>
<circle cx="330.25" cy="456.96" r="2.75" fill="none" stroke="#0070c0" stroke-width="1.2"/>
<circle cx="337.2" cy="453.61" r="2.75" fill="none" stroke="#0070c0" stroke-width="1.2"/>
<circle cx="376.96" cy="432.66" r="2.75" fill="none" stroke="#0070c0" stroke-width="1.2"/>
<circle cx="406.78" cy="416.81" r="2.75" fill="none" stroke="#0070c0" stroke-width="1.2"/>
<circle cx="504.69" cy="362.77" r="2.75" fill="none" stroke="#0070c0" stroke-width="1.2"/>
<circle cx="330.25" cy="459.79" r="2.75" fill="none" stroke="#00b050" stroke-width="1.2"/>
<circle cx="337.2" cy="456.7" r="2.75" fill="none" stroke="#00b050" stroke-width="1.2"/>
<circle cx="376.96" cy="438.69" r="2.75" fill="none" stroke="#00b050" stroke-width="1.2"/>
<circle cx="406.78" cy="424.43" r="2.75" fill="none" stroke="#00b050" stroke-width="1.2"/>
<circle cx="504.69" cy="377.7" r="2.75" fill="none" stroke="#00b050" stroke-width="1.2"/>
<circle cx="330.25" cy="463.39" r="2.75" fill="none" stroke="#ff0000" stroke-width="1.2"/>
<circle cx="337.2" cy="460.3" r="2.75" fill="none" stroke="#ff0000" stroke-width="1.2"/>
<circle cx="376.96" cy="443.57" r="2.75" fill="none" stroke="#ff0000" stroke-width="1.2"/>
<circle cx="406.78" cy="431.48" r="2.75" fill="none" stroke="#ff0000" stroke-width="1.2"/>
<circle cx="504.69" cy="390.31" r="2.75" fill="none" stroke="#ff0000" stroke-width="1.2"/>
<path d="M327.65,457.21H332.85M330.25,454.61V459.81" stroke="#000" stroke-width="1.2"/>
<path d="M334.6,452.07H339.8M337.2,449.47V454.67" stroke="#000" stroke-width="1.2"/>
<path d="M374.36,431.22H379.56M376.96,428.62V433.82" stroke="#000" stroke-width="1.2"/>
<path d="M404.18,414.5H409.38M406.78,411.9V417.1" stroke="#000" stroke-width="1.2"/>
<path d="M502.09,362.77H507.29M504.69,360.17V365.37" stroke="#000" stroke-width="1.2"/>
<circle cx="326.5" cy="330.3" r="2.75" fill="none" stroke="#7030a0" stroke-width="1.2"/>
<text transform="translate(332.1 333.5) scale(1 1.13)" font-family='"Liberation Sans", sans-serif' font-size="9.1" fill="#4d4d4d" text-anchor="start" font-weight="normal"  stroke="#4d4d4d" stroke-width="0.22">20<tspan stroke-width="0">°</tspan>C</text>
<circle cx="326.5" cy="348.9" r="2.75" fill="none" stroke="#0070c0" stroke-width="1.2"/>
<text transform="translate(332.1 352.1) scale(1 1.13)" font-family='"Liberation Sans", sans-serif' font-size="9.1" fill="#4d4d4d" text-anchor="start" font-weight="normal"  stroke="#4d4d4d" stroke-width="0.22">25<tspan stroke-width="0">°</tspan>C</text>
<circle cx="326.5" cy="367.3" r="2.75" fill="none" stroke="#00b050" stroke-width="1.2"/>
<text transform="translate(332.1 370.5) scale(1 1.13)" font-family='"Liberation Sans", sans-serif' font-size="9.1" fill="#4d4d4d" text-anchor="start" font-weight="normal"  stroke="#4d4d4d" stroke-width="0.22">31<tspan stroke-width="0">°</tspan>C</text>
<circle cx="326.5" cy="385.9" r="2.75" fill="none" stroke="#ff0000" stroke-width="1.2"/>
<text transform="translate(332.1 389.1) scale(1 1.13)" font-family='"Liberation Sans", sans-serif' font-size="9.1" fill="#4d4d4d" text-anchor="start" font-weight="normal"  stroke="#4d4d4d" stroke-width="0.22">37<tspan stroke-width="0">°</tspan>C</text>
<path d="M324.1,404.3H329.3M326.7,401.7V406.9" stroke="#000" stroke-width="1.3"/>
<text transform="translate(332.1 407.6) scale(1 1.13)" font-family='"Liberation Sans", sans-serif' font-size="9.1" fill="#4d4d4d" text-anchor="start" font-weight="normal"  stroke="#4d4d4d" stroke-width="0.22">MRI 25<tspan stroke-width="0">°</tspan>C</text>
<text x="420.8" y="506.3" font-family='"Liberation Sans", sans-serif' font-size="10.6" fill="#4d4d4d" text-anchor="middle" font-weight="normal"  stroke="#4d4d4d" stroke-width="0.22">MnCl<tspan font-size="7" dy="2.2">2</tspan><tspan dy="-2.2"> (M)</tspan></text>
<text x="295" y="399" font-family='"Liberation Sans", sans-serif' font-size="10.3" fill="#4d4d4d" text-anchor="middle" font-weight="normal" transform="rotate(-90 295 399)" stroke="#4d4d4d" stroke-width="0.22">R<tspan font-size="7" dy="2.2">1</tspan><tspan dy="-2.2"> (s</tspan><tspan font-size="7" dy="-3.4">-1</tspan><tspan dy="3.4">)</tspan></text>
<text x="130.5" y="292" font-family='"Liberation Serif", serif' font-size="10.5" fill="#000" text-anchor="middle" font-weight="bold" >(a)</text>
<text x="407.9" y="291.3" font-family='"Liberation Serif", serif' font-size="10.5" fill="#000" text-anchor="middle" font-weight="bold" >(b)</text>
<text x="130.7" y="535" font-family='"Liberation Serif", serif' font-size="10.5" fill="#000" text-anchor="middle" font-weight="bold" >(c)</text>
<text x="407.5" y="535" font-family='"Liberation Serif", serif' font-size="10.5" fill="#000" text-anchor="middle" font-weight="bold" >(d)</text>
</svg>
</body></html>
